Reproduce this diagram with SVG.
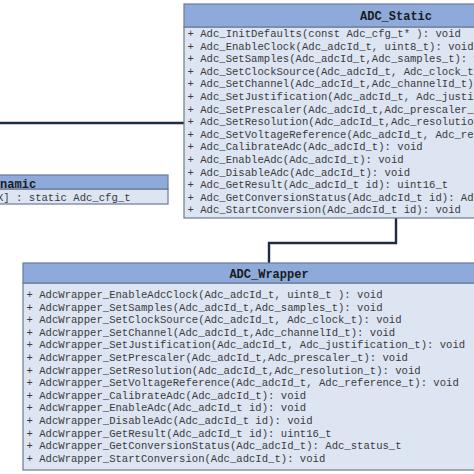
<svg xmlns="http://www.w3.org/2000/svg" width="474" height="474" viewBox="0 0 474 474">
<style>
.hdr{fill:#8eaadb;stroke:#6b7b96;stroke-width:1.2}
.cmp{fill:#dde5f3;stroke:#6b7b96;stroke-width:1.2}
.ttl{font-family:"Liberation Mono","Courier New",monospace;font-weight:bold;font-size:12px;fill:#1a1a1a;text-anchor:middle}
.row{font-family:"Liberation Mono","Courier New",monospace;font-size:10.6px;fill:#3a3a3a}
.conn{fill:none;stroke:#1e2b4c;stroke-width:2.4}
</style>
<rect width="474" height="474" fill="#ffffff"/>
<g id="connectors">
<path class="conn" d="M0 123 H184"/>
<path class="conn" d="M396 218 V243 H269 V263"/>
</g>
<g id="ADC_Static">
<rect class="cmp" x="184" y="27" width="424" height="191"/>
<rect class="hdr" x="184" y="4" width="424" height="23"/>
<text class="ttl" x="396" y="19.5">ADC_Static</text>
<text class="row" x="187.5" y="37">+ Adc_InitDefaults(const Adc_cfg_t* ): void</text>
<text class="row" x="187.5" y="49.6">+ Adc_EnableClock(Adc_adcId_t, uint8_t): void</text>
<text class="row" x="187.5" y="62.2">+ Adc_SetSamples(Adc_adcId_t,Adc_samples_t): void</text>
<text class="row" x="187.5" y="74.8">+ Adc_SetClockSource(Adc_adcId_t, Adc_clock_t): void</text>
<text class="row" x="187.5" y="87.4">+ Adc_SetChannel(Adc_adcId_t,Adc_channelId_t): void</text>
<text class="row" x="187.5" y="100">+ Adc_SetJustification(Adc_adcId_t, Adc_justification_t): void</text>
<text class="row" x="187.5" y="112.6">+ Adc_SetPrescaler(Adc_adcId_t,Adc_prescaler_t): void</text>
<text class="row" x="187.5" y="125.2">+ Adc_SetResolution(Adc_adcId_t,Adc_resolution_t): void</text>
<text class="row" x="187.5" y="137.8">+ Adc_SetVoltageReference(Adc_adcId_t, Adc_reference_t): void</text>
<text class="row" x="187.5" y="150.4">+ Adc_CalibrateAdc(Adc_adcId_t): void</text>
<text class="row" x="187.5" y="163">+ Adc_EnableAdc(Adc_adcId_t): void</text>
<text class="row" x="187.5" y="175.6">+ Adc_DisableAdc(Adc_adcId_t): void</text>
<text class="row" x="187.5" y="188.2">+ Adc_GetResult(Adc_adcId_t id): uint16_t</text>
<text class="row" x="187.5" y="200.8">+ Adc_GetConversionStatus(Adc_adcId_t id): Adc_status_t</text>
<text class="row" x="187.5" y="213.4">+ Adc_StartConversion(Adc_adcId_t id): void</text>
</g>
<g id="ADC_Dynamic">
<rect class="cmp" x="-175" y="189" width="343" height="15"/>
<rect class="hdr" x="-175" y="175" width="343" height="14"/>
<text class="ttl" x="-3.5" y="188">ADC_Dynamic</text>
<text class="row" x="-3" y="200.5">X] : static Adc_cfg_t</text>
</g>
<g id="ADC_Wrapper">
<rect class="cmp" x="23" y="283" width="492" height="187"/>
<rect class="hdr" x="23" y="263" width="492" height="20"/>
<text class="ttl" x="269" y="277.5">ADC_Wrapper</text>
<text class="row" x="26.5" y="298">+ AdcWrapper_EnableAdcClock(Adc_adcId_t, uint8_t ): void</text>
<text class="row" x="26.5" y="310.6">+ AdcWrapper_SetSamples(Adc_adcId_t,Adc_samples_t): void</text>
<text class="row" x="26.5" y="323.2">+ AdcWrapper_SetClockSource(Adc_adcId_t, Adc_clock_t): void</text>
<text class="row" x="26.5" y="335.8">+ AdcWrapper_SetChannel(Adc_adcId_t,Adc_channelId_t): void</text>
<text class="row" x="26.5" y="348.4">+ AdcWrapper_SetJustification(Adc_adcId_t, Adc_justification_t): void</text>
<text class="row" x="26.5" y="361">+ AdcWrapper_SetPrescaler(Adc_adcId_t,Adc_prescaler_t): void</text>
<text class="row" x="26.5" y="373.6">+ AdcWrapper_SetResolution(Adc_adcId_t,Adc_resolution_t): void</text>
<text class="row" x="26.5" y="386.2">+ AdcWrapper_SetVoltageReference(Adc_adcId_t, Adc_reference_t): void</text>
<text class="row" x="26.5" y="398.8">+ AdcWrapper_CalibrateAdc(Adc_adcId_t): void</text>
<text class="row" x="26.5" y="411.4">+ AdcWrapper_EnableAdc(Adc_adcId_t id): void</text>
<text class="row" x="26.5" y="424">+ AdcWrapper_DisableAdc(Adc_adcId_t id): void</text>
<text class="row" x="26.5" y="436.6">+ AdcWrapper_GetResult(Adc_adcId_t id): uint16_t</text>
<text class="row" x="26.5" y="449.2">+ AdcWrapper_GetConversionStatus(Adc_adcId_t): Adc_status_t</text>
<text class="row" x="26.5" y="461.8">+ AdcWrapper_StartConversion(Adc_adcId_t): void</text>
</g>
</svg>
